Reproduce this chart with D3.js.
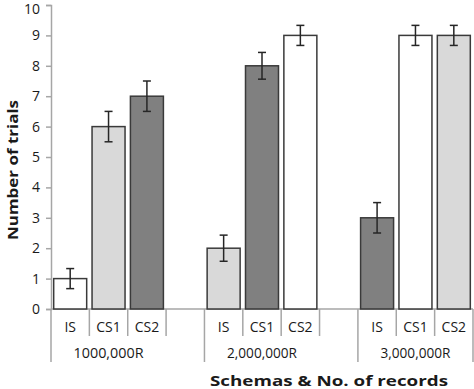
<!DOCTYPE html>
<html>
<head>
<meta charset="utf-8">
<script src="https://cdn.jsdelivr.net/npm/d3@7"></script>
<style>
  html, body { margin: 0; padding: 0; background: #fff; }
  svg { display: block; }
  text { font-family: "Open Sans", "Liberation Sans", sans-serif; fill: #1a1a1a; }
</style>
</head>
<body>
<script>
// ---- Data ----
const groups = ["1000,000R", "2,000,000R", "3,000,000R"];
const series = ["IS", "CS1", "CS2"];
const values = [
  [1, 6, 7],
  [2, 8, 9],
  [3, 9, 9]
];
const errors = [
  [0.33, 0.5, 0.5],
  [0.43, 0.44, 0.33],
  [0.5, 0.33, 0.33]
];
// fill shade per bar: 0 white, 1 light gray, 2 dark gray
const shades = [
  [0, 1, 2],
  [1, 2, 0],
  [2, 0, 1]
];
const shadeColors = ["#ffffff", "#d9d9d9", "#808080"];
const yTicks = [0, 1, 2, 3, 4, 5, 6, 7, 8, 9, 10];

// ---- Layout ----
const W = 474, H = 389;
const mLeft = 51, mRight = 473, mTop = 5, mBottom = 309;

const svg = d3.select("body").append("svg").attr("width", W).attr("height", H);

// slots: each group has 3 series + a blank slot (except after last group)
const slots = [];
groups.forEach((g, gi) => {
  series.forEach(s => slots.push(gi + "|" + s));
  if (gi < groups.length - 1) slots.push(gi + "|gap");
});

const x = d3.scaleBand().domain(slots).range([mLeft, mRight]).padding(0);
const y = d3.scaleLinear().domain([0, 10]).range([mBottom, mTop]);

const axisColor = "#a6a6a6";

// Y axis
const yAxis = d3.axisLeft(y).tickValues(yTicks).tickSize(5).tickPadding(6).tickFormat(d3.format("d"));
const gy = svg.append("g").attr("transform", `translate(${mLeft},0)`).call(yAxis);
gy.select(".domain").attr("stroke", axisColor).attr("stroke-width", 1.5);
gy.selectAll(".tick line").attr("stroke", axisColor).attr("stroke-width", 1.5);
gy.selectAll(".tick text").style("font-size", "14px").attr("fill", "#1a1a1a")
  .attr("y", d => d === 10 ? 4 : 0);

// X axis baseline
svg.append("line")
  .attr("x1", mLeft).attr("x2", mRight)
  .attr("y1", y(0)).attr("y2", y(0))
  .attr("stroke", axisColor).attr("stroke-width", 1.5);

// Category separators (short) and group separators (long)
const shortY = 336, longY = 362;
const bw = x.bandwidth();
const seps = [];
slots.forEach((s) => {
  seps.push({ x: x(s), long: s.endsWith("|IS") });
});
seps.push({ x: mRight, long: true });
svg.append("g").selectAll("line").data(seps).join("line")
  .attr("x1", d => d.x).attr("x2", d => d.x)
  .attr("y1", y(0)).attr("y2", d => d.long ? longY : shortY)
  .attr("stroke", axisColor).attr("stroke-width", 1.5);

// Category labels
const catData = [];
groups.forEach((g, gi) => series.forEach((s) => catData.push({ key: gi + "|" + s, s })));
svg.append("g").selectAll("text").data(catData).join("text")
  .attr("x", d => x(d.key) + bw / 2)
  .attr("y", 332)
  .attr("text-anchor", "middle")
  .style("font-size", "14px")
  .text(d => d.s);

// Group labels
svg.append("g").selectAll("text").data(groups).join("text")
  .attr("x", (g, gi) => (x(gi + "|IS") + x(gi + "|CS2") + bw) / 2)
  .attr("y", 358)
  .attr("text-anchor", "middle")
  .style("font-size", "14.5px")
  .attr("textLength", 70)
  .attr("lengthAdjust", "spacingAndGlyphs")
  .text(g => g);

// Bars
const barData = [];
groups.forEach((g, gi) => series.forEach((s, si) => barData.push({
  key: gi + "|" + s, v: values[gi][si], e: errors[gi][si], shade: shades[gi][si]
})));
const barPad = bw * 0.07;
const barW = bw - 2 * barPad;
svg.append("g").selectAll("rect").data(barData).join("rect")
  .attr("x", d => x(d.key) + barPad)
  .attr("y", d => y(d.v))
  .attr("width", barW)
  .attr("height", d => y(0) - y(d.v))
  .attr("fill", d => shadeColors[d.shade])
  .attr("stroke", "#3a3a3a")
  .attr("stroke-width", 1.5);

// Error bars
const eb = svg.append("g").attr("stroke", "#262626").attr("stroke-width", 1.5);
barData.forEach(d => {
  const cx = x(d.key) + bw / 2;
  eb.append("line").attr("x1", cx).attr("x2", cx).attr("y1", y(d.v + d.e)).attr("y2", y(d.v - d.e));
  eb.append("line").attr("x1", cx - 4).attr("x2", cx + 4).attr("y1", y(d.v + d.e)).attr("y2", y(d.v + d.e));
  eb.append("line").attr("x1", cx - 4).attr("x2", cx + 4).attr("y1", y(d.v - d.e)).attr("y2", y(d.v - d.e));
});

// Axis titles
svg.append("text")
  .attr("transform", `translate(18,170) rotate(-90)`)
  .attr("text-anchor", "middle")
  .style("font-size", "14px").style("font-weight", "bold")
  .attr("textLength", 140).attr("lengthAdjust", "spacingAndGlyphs")
  .text("Number of trials");

svg.append("text")
  .attr("x", 329).attr("y", 386)
  .attr("text-anchor", "middle")
  .style("font-size", "15px").style("font-weight", "bold")
  .attr("textLength", 238).attr("lengthAdjust", "spacingAndGlyphs")
  .text("Schemas & No. of records");
</script>
</body>
</html>
